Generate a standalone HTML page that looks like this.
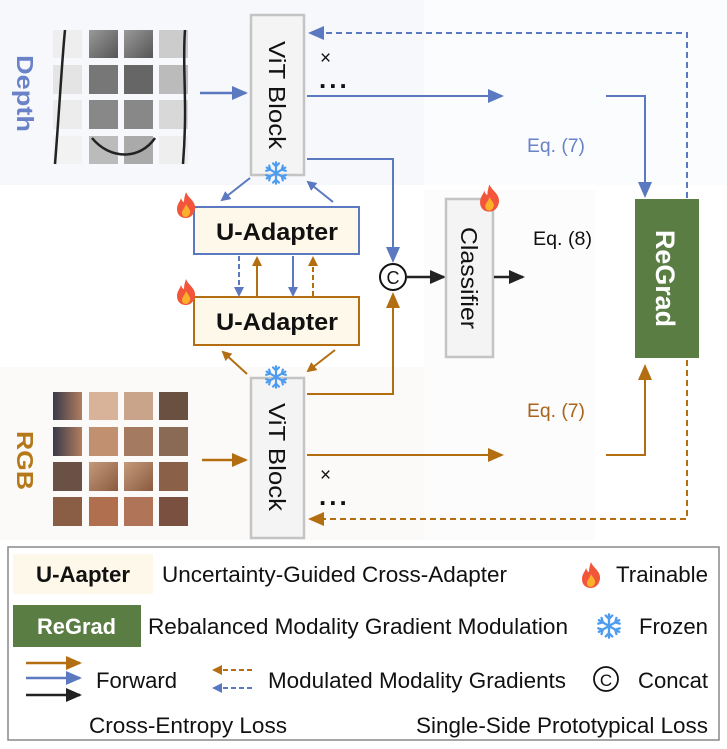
<!DOCTYPE html>
<html><head><meta charset="utf-8"><style>
body{margin:0;background:#fff}
svg{display:block}
text{font-family:"Liberation Sans",Arial,sans-serif}
</style></head><body>
<svg width="727" height="749" viewBox="0 0 727 749" xmlns="http://www.w3.org/2000/svg">
<defs>
<marker id="ab" markerWidth="10" markerHeight="10" refX="8" refY="5" orient="auto" markerUnits="userSpaceOnUse"><path d="M0,0 L10,5 L0,10 z" fill="#5b79c0"/></marker>
<marker id="ao" markerWidth="10" markerHeight="10" refX="8" refY="5" orient="auto" markerUnits="userSpaceOnUse"><path d="M0,0 L10,5 L0,10 z" fill="#b36e12"/></marker>
<marker id="abL" markerWidth="16" markerHeight="14" refX="14" refY="7" orient="auto" markerUnits="userSpaceOnUse"><path d="M0,0 L16,7 L0,14 z" fill="#5b79c0"/></marker>
<marker id="aoL" markerWidth="16" markerHeight="14" refX="14" refY="7" orient="auto" markerUnits="userSpaceOnUse"><path d="M0,0 L16,7 L0,14 z" fill="#b36e12"/></marker>
<marker id="akL" markerWidth="16" markerHeight="14" refX="14" refY="7" orient="auto" markerUnits="userSpaceOnUse"><path d="M0,0 L16,7 L0,14 z" fill="#222"/></marker>
<symbol id="fire" viewBox="0 0 20 26"><path d="M10,0 C12,6 20,9 19,17 C18,23 14,26 10,26 C5,26 1,23 1,17 C1,12 4,10 5,6 C6,9 7,10 8,10 C8,6 9,3 10,0z" fill="#f2553a"/><path d="M10,12 C12,16 15,18 14,21 C13,24 11,25 10,25 C7,25 6,23 6,21 C6,18 9,16 10,12z" fill="#fbb02c"/></symbol>
<symbol id="snow" viewBox="-10 -10 20 20"><g stroke="#4d9cf0" stroke-width="1.8" fill="none" stroke-linecap="round"><path d="M0,-9V9M-7.8,-4.5L7.8,4.5M-7.8,4.5L7.8,-4.5"/><path d="M-2.5,-8L0,-5.5L2.5,-8M-2.5,8L0,5.5L2.5,8M-8.2,-1.8L-4.8,-2.8L-5.7,-6.2M8.2,1.8L4.8,2.8L5.7,6.2M-8.2,1.8L-4.8,2.8L-5.7,6.2M8.2,-1.8L4.8,-2.8L5.7,-6.2"/></g></symbol>
<linearGradient id="g1" x1="0" y1="0" x2="1" y2="1"><stop offset="0" stop-color="#999"/><stop offset="1" stop-color="#555"/></linearGradient>
<linearGradient id="f1" x1="0" y1="0" x2="1" y2="1"><stop offset="0" stop-color="#c49a7a"/><stop offset="1" stop-color="#8a5a40"/></linearGradient>
<linearGradient id="f2" x1="0" y1="0" x2="1" y2="0"><stop offset="0" stop-color="#3a3a4a"/><stop offset="1" stop-color="#b07d60"/></linearGradient>
</defs>
<rect x="0" y="0" width="424" height="185" fill="#f7f8fc"/>
<rect x="424" y="0" width="303" height="185" fill="#fbfcfd"/>
<rect x="0" y="367" width="424" height="173" fill="#fbfaf8"/>
<rect x="424" y="190" width="170" height="350" fill="#fcfcfc"/>

<g>
<rect x="53" y="30" width="29" height="28" fill="#eee"/><rect x="89" y="30" width="29" height="28" fill="url(#g1)"/><rect x="124" y="30" width="29" height="28" fill="url(#g1)"/><rect x="159" y="30" width="29" height="28" fill="#ccc"/>
<rect x="53" y="65" width="29" height="29" fill="#e4e4e4"/><rect x="89" y="65" width="29" height="29" fill="#777"/><rect x="124" y="65" width="29" height="29" fill="#666"/><rect x="159" y="65" width="29" height="29" fill="#bbb"/>
<rect x="53" y="100" width="29" height="29" fill="#ececec"/><rect x="89" y="100" width="29" height="29" fill="#888"/><rect x="124" y="100" width="29" height="29" fill="#888"/><rect x="159" y="100" width="29" height="29" fill="#d8d8d8"/>
<rect x="53" y="136" width="29" height="28" fill="#f2f2f2"/><rect x="89" y="136" width="29" height="28" fill="#bbb"/><rect x="124" y="136" width="29" height="28" fill="#aaa"/><rect x="159" y="136" width="29" height="28" fill="#eee"/>
<path d="M65,30 C62,60 60,100 55,164 M185,30 C182,70 188,100 183,164" stroke="#222" stroke-width="2.5" fill="none"/>
<path d="M92,138 C110,160 140,160 155,138" stroke="#222" stroke-width="2.5" fill="none"/>
</g>
<text transform="translate(17,55) rotate(90)" font-size="23" font-weight="bold" fill="#6a82c8" textLength="77" lengthAdjust="spacingAndGlyphs">Depth</text>

<g>
<rect x="53" y="392" width="29" height="28" fill="url(#f2)"/><rect x="89" y="392" width="29" height="28" fill="#d8b39a"/><rect x="124" y="392" width="29" height="28" fill="#c9a48a"/><rect x="159" y="392" width="29" height="28" fill="#6a5040"/>
<rect x="53" y="427" width="29" height="29" fill="url(#f2)"/><rect x="89" y="427" width="29" height="29" fill="#c09070"/><rect x="124" y="427" width="29" height="29" fill="#a47a60"/><rect x="159" y="427" width="29" height="29" fill="#8a6a55"/>
<rect x="53" y="462" width="29" height="29" fill="#6a5045"/><rect x="89" y="462" width="29" height="29" fill="url(#f1)"/><rect x="124" y="462" width="29" height="29" fill="url(#f1)"/><rect x="159" y="462" width="29" height="29" fill="#8a6048"/>
<rect x="53" y="497" width="29" height="29" fill="#8a5e45"/><rect x="89" y="497" width="29" height="29" fill="#b07050"/><rect x="124" y="497" width="29" height="29" fill="#b07558"/><rect x="159" y="497" width="29" height="29" fill="#7a5040"/>
</g>
<text transform="translate(17,431) rotate(90)" font-size="23" font-weight="bold" fill="#b5791a" textLength="59" lengthAdjust="spacingAndGlyphs">RGB</text>

<rect x="251" y="15" width="53" height="160" fill="#f4f4f4" stroke="#c4c4c4" stroke-width="2.5"/>
<text transform="translate(269,41) rotate(90)" font-size="23" fill="#111" textLength="108" lengthAdjust="spacingAndGlyphs">ViT Block</text>
<rect x="251" y="378" width="53" height="160" fill="#f4f4f4" stroke="#c4c4c4" stroke-width="2.5"/>
<text transform="translate(269,403) rotate(90)" font-size="23" fill="#111" textLength="108" lengthAdjust="spacingAndGlyphs">ViT Block</text>
<use href="#snow" x="264" y="161" width="24" height="24"/>
<use href="#snow" x="264" y="365" width="24" height="24"/>

<rect x="194" y="207" width="165" height="47" fill="#fdf8e9" stroke="#5b79c0" stroke-width="2"/>
<text x="216" y="240" font-size="24" font-weight="bold" fill="#111" textLength="122" lengthAdjust="spacingAndGlyphs">U-Adapter</text>
<rect x="194" y="297" width="165" height="48" fill="#fdf8e9" stroke="#b36e12" stroke-width="2"/>
<text x="216" y="330" font-size="24" font-weight="bold" fill="#111" textLength="122" lengthAdjust="spacingAndGlyphs">U-Adapter</text>
<use href="#fire" x="176" y="192" width="20" height="26"/>
<use href="#fire" x="176" y="279" width="20" height="26"/>

<line x1="250" y1="178" x2="222" y2="200" stroke="#5b79c0" stroke-width="2" marker-end="url(#ab)"/>
<line x1="333" y1="202" x2="308" y2="182" stroke="#5b79c0" stroke-width="2" marker-end="url(#ab)"/>
<line x1="247" y1="374" x2="223" y2="352" stroke="#b36e12" stroke-width="2" marker-end="url(#ao)"/>
<line x1="335" y1="350" x2="308" y2="371" stroke="#b36e12" stroke-width="2" marker-end="url(#ao)"/>
<line x1="239" y1="256" x2="239" y2="295" stroke="#5b79c0" stroke-width="2" stroke-dasharray="5,3" marker-end="url(#ab)"/>
<line x1="257" y1="296" x2="257" y2="258" stroke="#b36e12" stroke-width="2" marker-end="url(#ao)"/>
<line x1="293" y1="256" x2="293" y2="295" stroke="#5b79c0" stroke-width="2" marker-end="url(#ab)"/>
<line x1="313" y1="296" x2="313" y2="258" stroke="#b36e12" stroke-width="2" stroke-dasharray="5,3" marker-end="url(#ao)"/>

<line x1="200" y1="93" x2="246" y2="93" stroke="#5b79c0" stroke-width="2.5" marker-end="url(#abL)"/>
<line x1="202" y1="460" x2="246" y2="460" stroke="#b36e12" stroke-width="2.5" marker-end="url(#aoL)"/>

<text x="320" y="64" font-size="19" fill="#111">×</text>
<text x="319" y="88" font-size="26" font-weight="bold" fill="#111" letter-spacing="3">...</text>
<text x="320" y="481" font-size="19" fill="#111">×</text>
<text x="319" y="505" font-size="26" font-weight="bold" fill="#111" letter-spacing="3">...</text>

<line x1="307" y1="96" x2="502" y2="96" stroke="#5b79c0" stroke-width="2" marker-end="url(#abL)"/>
<polyline points="606,96 645,96 645,196" fill="none" stroke="#5b79c0" stroke-width="2" marker-end="url(#abL)"/>
<text x="527" y="152" font-size="19" fill="#6a82c8" textLength="58" lengthAdjust="spacingAndGlyphs">Eq. (7)</text>
<line x1="307" y1="455" x2="502" y2="455" stroke="#b36e12" stroke-width="2" marker-end="url(#aoL)"/>
<polyline points="606,455 645,455 645,366" fill="none" stroke="#b36e12" stroke-width="2" marker-end="url(#aoL)"/>
<text x="527" y="417" font-size="19" fill="#a8641a" textLength="58" lengthAdjust="spacingAndGlyphs">Eq. (7)</text>

<polyline points="687,198 687,33 310,33" fill="none" stroke="#5b79c0" stroke-width="2" stroke-dasharray="6,4" marker-end="url(#abL)"/>
<polyline points="687,360 687,519 310,519" fill="none" stroke="#b36e12" stroke-width="2" stroke-dasharray="6,4" marker-end="url(#aoL)"/>

<polyline points="307,159 393,159 393,261" fill="none" stroke="#5b79c0" stroke-width="2" marker-end="url(#abL)"/>
<polyline points="307,394 393,394 393,294" fill="none" stroke="#b36e12" stroke-width="2" marker-end="url(#aoL)"/>
<circle cx="393" cy="277" r="13" fill="#fff" stroke="#111" stroke-width="2"/>
<text x="393" y="284" font-size="18" text-anchor="middle" fill="#111">C</text>
<line x1="406" y1="277" x2="444" y2="277" stroke="#222" stroke-width="2.5" marker-end="url(#akL)"/>

<rect x="446" y="199" width="47" height="158" fill="#f4f4f4" stroke="#c4c4c4" stroke-width="2.5"/>
<text transform="translate(461,227) rotate(90)" font-size="23" fill="#111" textLength="102" lengthAdjust="spacingAndGlyphs">Classifier</text>
<use href="#fire" x="479" y="184" width="21" height="28"/>
<line x1="494" y1="277" x2="523" y2="277" stroke="#222" stroke-width="2.5" marker-end="url(#akL)"/>
<text x="533" y="245" font-size="19" fill="#111" textLength="59" lengthAdjust="spacingAndGlyphs">Eq. (8)</text>

<rect x="635" y="199" width="64" height="159" fill="#5a7d44"/>
<text transform="translate(656,230) rotate(90)" font-size="27" font-weight="bold" fill="#fff" textLength="97" lengthAdjust="spacingAndGlyphs">ReGrad</text>

<rect x="8" y="547" width="711" height="193" fill="#fff" stroke="#888" stroke-width="1.5"/>
<rect x="13" y="554" width="140" height="40" fill="#fdf8e9"/>
<text x="36" y="582" font-size="22" font-weight="bold" fill="#111" textLength="94" lengthAdjust="spacingAndGlyphs">U-Aapter</text>
<text x="162" y="582" font-size="22" fill="#111" textLength="345" lengthAdjust="spacingAndGlyphs">Uncertainty-Guided Cross-Adapter</text>
<use href="#fire" x="581" y="562" width="20" height="26"/>
<text x="616" y="582" font-size="22" fill="#111" textLength="92" lengthAdjust="spacingAndGlyphs">Trainable</text>
<rect x="13" y="605" width="128" height="42" fill="#5a7d44"/>
<text x="37" y="634" font-size="22" font-weight="bold" fill="#fff" textLength="79" lengthAdjust="spacingAndGlyphs">ReGrad</text>
<text x="148" y="634" font-size="22" fill="#111" textLength="420" lengthAdjust="spacingAndGlyphs">Rebalanced Modality Gradient Modulation</text>
<use href="#snow" x="596" y="613" width="26" height="26"/>
<text x="639" y="634" font-size="22" fill="#111" textLength="69" lengthAdjust="spacingAndGlyphs">Frozen</text>
<line x1="26" y1="663" x2="80" y2="663" stroke="#b36e12" stroke-width="2.5" marker-end="url(#aoL)"/>
<line x1="26" y1="678" x2="80" y2="678" stroke="#5b79c0" stroke-width="2.5" marker-end="url(#abL)"/>
<line x1="26" y1="695" x2="80" y2="695" stroke="#222" stroke-width="2.5" marker-end="url(#akL)"/>
<text x="96" y="688" font-size="22" fill="#111" textLength="81" lengthAdjust="spacingAndGlyphs">Forward</text>
<line x1="252" y1="670" x2="214" y2="670" stroke="#b36e12" stroke-width="2" stroke-dasharray="5,3" marker-end="url(#ao)"/>
<line x1="252" y1="688" x2="214" y2="688" stroke="#5b79c0" stroke-width="2" stroke-dasharray="5,3" marker-end="url(#ab)"/>
<text x="268" y="688" font-size="22" fill="#111" textLength="298" lengthAdjust="spacingAndGlyphs">Modulated Modality Gradients</text>
<circle cx="606" cy="679" r="12" fill="#fff" stroke="#111" stroke-width="1.8"/>
<text x="606" y="686" font-size="17" text-anchor="middle" fill="#111">C</text>
<text x="638" y="688" font-size="22" fill="#111" textLength="70" lengthAdjust="spacingAndGlyphs">Concat</text>
<text x="89" y="733" font-size="22" fill="#111" textLength="198" lengthAdjust="spacingAndGlyphs">Cross-Entropy Loss</text>
<text x="416" y="733" font-size="22" fill="#111" textLength="292" lengthAdjust="spacingAndGlyphs">Single-Side Prototypical Loss</text>
</svg>
</body></html>
